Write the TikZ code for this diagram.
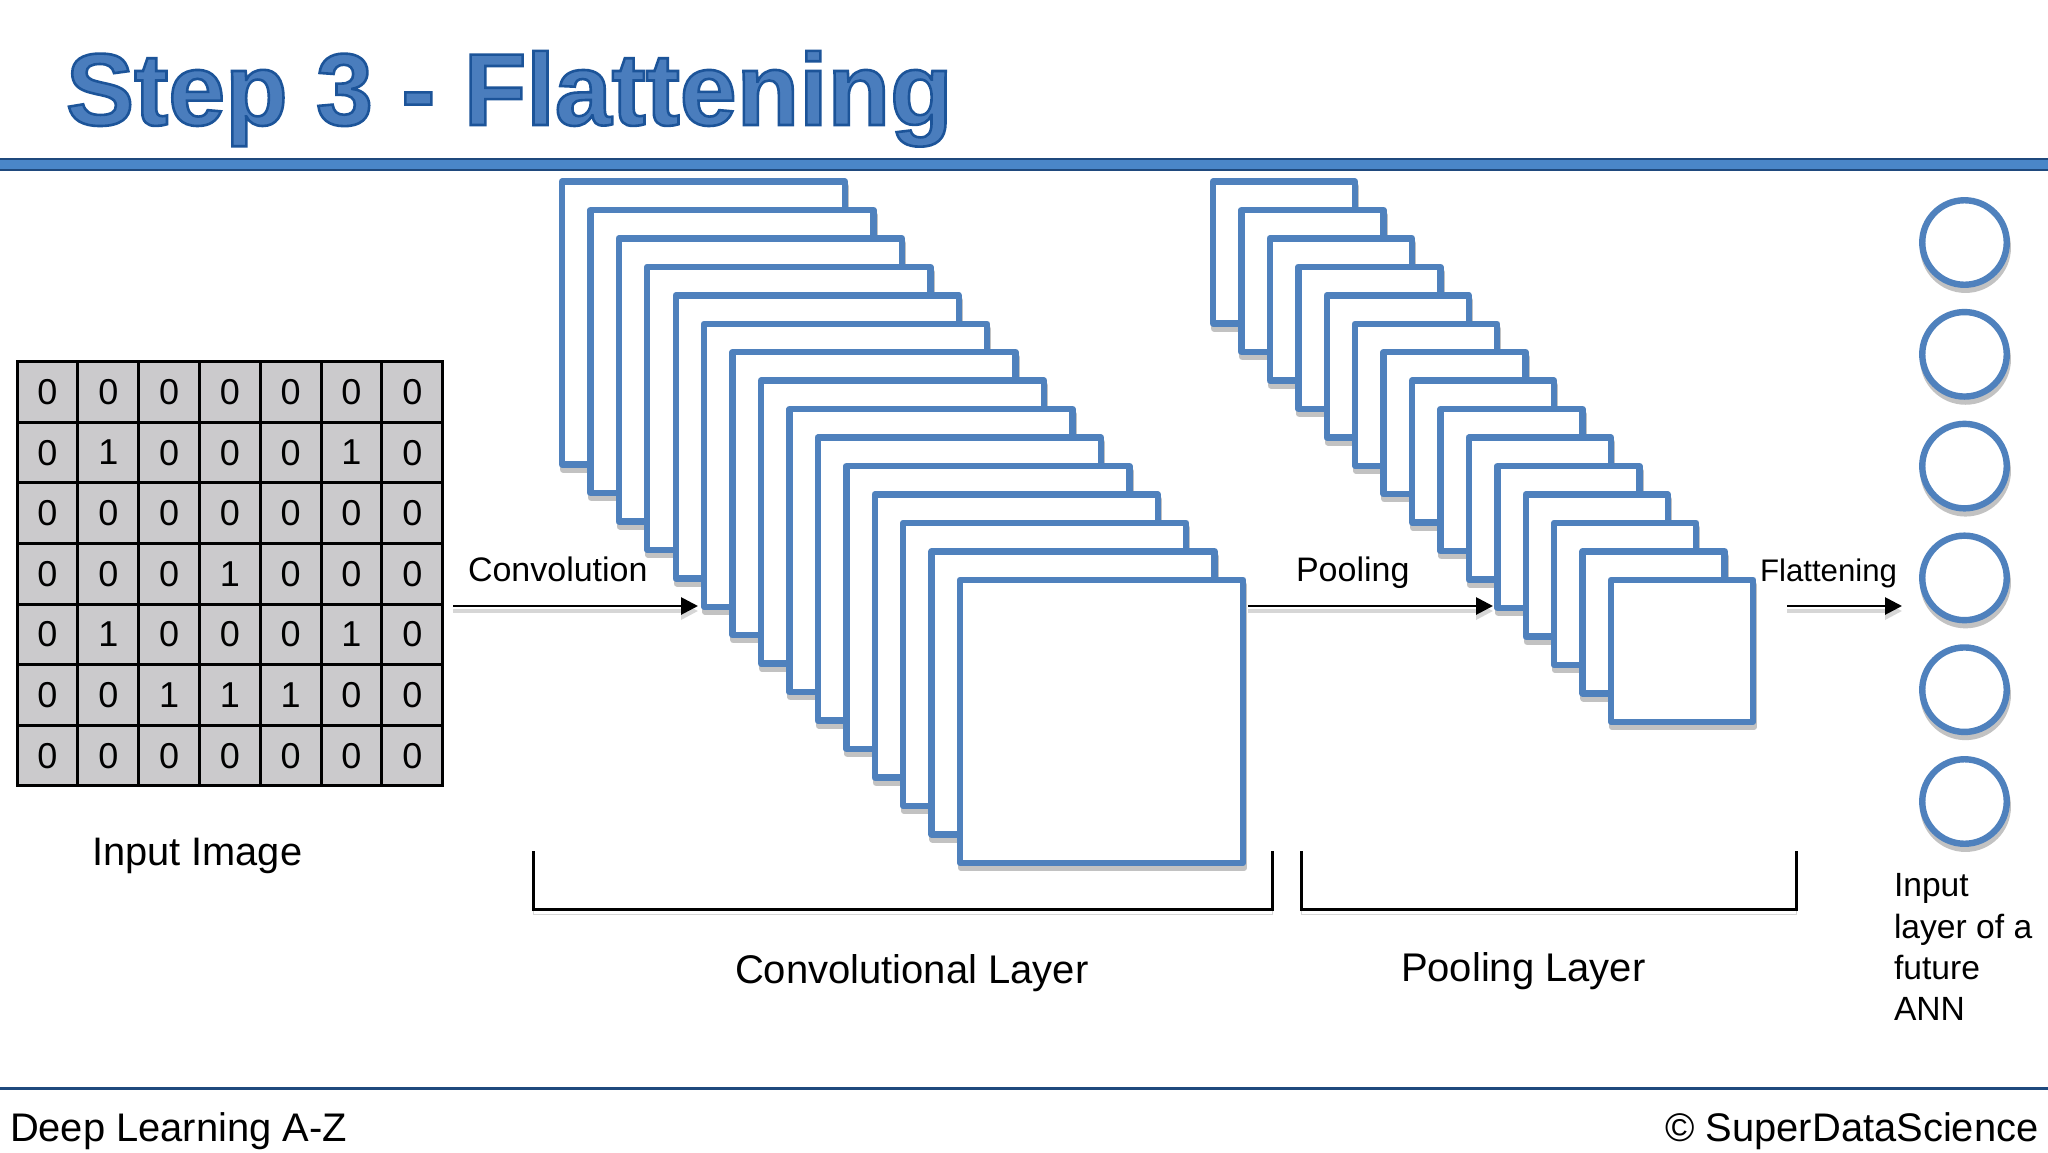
\documentclass[tikz,border=0pt]{standalone}
\usepackage{fontspec}
\setmainfont{Liberation Sans}
\usetikzlibrary{arrows.meta,shadows}
\definecolor{frameblue}{HTML}{4F81BD}
\definecolor{barblue}{HTML}{4A86C8}
\definecolor{darkblue}{HTML}{1F497D}
\definecolor{cellgray}{HTML}{CBCACC}
\newcommand{\fs}[1]{\fontsize{#1}{#1}\selectfont}
\tikzset{
  every node/.style={inner sep=0pt,outer sep=0pt},
  softshadow/.style={copy shadow={shadow xshift=1pt,shadow yshift=-5pt,draw=black!24,fill=black!24}},
  frame/.style={draw=frameblue,fill=white,line width=6.4pt,rectangle,softshadow,line join=round},
  neuron/.style={draw=frameblue,fill=white,line width=6.4pt,circle,minimum size=84.5pt,softshadow},
  cell/.style={draw=black,fill=cellgray,line width=3pt,rectangle,minimum width=60.8pt,minimum height=60.6pt,font=\fs{36},text=black},
  label/.style={anchor=base west,text=black},
  flow/.style={line width=2.8pt,-{Triangle[length=17pt,width=17pt]},preaction={draw=black!16,line width=3.4pt,transform canvas={yshift=-5pt}}},
  bracket/.style={line width=3pt,line join=miter,preaction={draw=black!16,transform canvas={yshift=-5pt}}},
}
\begin{document}
\begin{tikzpicture}[x=1pt,y=-1pt]
\useasboundingbox (0,0) rectangle (2048,1152);
\fill[white] (0,0) rectangle (2048,1152);
% title
\node[label,font=\bfseries\fs{102.3}] (title) at (66,125) {\special{pdf:code q 2 Tr 2.6 w 0.11 0.33 0.60 RG 0.29 0.49 0.74 rg}Step 3 - Flattening\special{pdf:code Q}};
% header bar
\path[fill=barblue,draw=darkblue,line width=1.8pt] (-5,159) rectangle (2053,170);
% grid
\foreach \r [count=\y from 0] in {{0,0,0,0,0,0,0},{0,1,0,0,0,1,0},{0,0,0,0,0,0,0},{0,0,0,1,0,0,0},{0,1,0,0,0,1,0},{0,0,1,1,1,0,0},{0,0,0,0,0,0,0}}{
  \foreach \v [count=\x from 0] in \r {
    \node[cell] (g\y-\x) at ({47.5+60.8*\x},{392+60.6*\y}) {\v};
  }
}
\node[label,font=\fs{39.8}] (inputimage) at (92,865) {Input Image};
% convolutional stack
\foreach \i in {0,...,14}{
  \node[frame,minimum size=283pt] (c\i) at ({703.5+28.43*\i},{323+28.45*\i}) {};
}
% pooling stack
\foreach \i in {0,...,14}{
  \node[frame,minimum size=142pt] (p\i) at ({1284+28.43*\i},{252.5+28.45*\i}) {};
}
% neurons
\foreach \i in {0,...,5}{
  \node[neuron] (n\i) at (1964.5,{242.5+111.8*\i}) {};
}
% arrows
\coordinate (a1s) at (453,606); \coordinate (a1e) at (698,606);
\coordinate (a2s) at (1248,606); \coordinate (a2e) at (1493,606);
\coordinate (a3s) at (1787,606); \coordinate (a3e) at (1902,606);
\draw[flow] (a1s) -- (a1e);
\draw[flow] (a2s) -- (a2e);
\draw[flow] (a3s) -- (a3e);
\node[label,font=\fs{34}] (lconv) at (468,581) {Convolution};
\node[label,font=\fs{34}] (lpool) at (1296,581) {Pooling};
\node[label,font=\fs{31.2}] (lflat) at (1760,581.5) {Flattening};
% brackets
\coordinate (b1a) at (533,851); \coordinate (b1b) at (533,909); \coordinate (b1c) at (1272,909); \coordinate (b1d) at (1272,851);
\coordinate (b2a) at (1301,851); \coordinate (b2b) at (1301,909); \coordinate (b2c) at (1796,909); \coordinate (b2d) at (1796,851);
\draw[bracket] (b1a) -- (b1b) -- (b1c) -- (b1d);
\draw[bracket] (b2a) -- (b2b) -- (b2c) -- (b2d);
\node[label,font=\fs{40}] (lcl) at (735,983) {Convolutional Layer};
\node[label,font=\fs{40}] (lpl) at (1401,981) {Pooling Layer};
\node[label,font=\fs{33.6}] (l1) at (1894,896) {Input};
\node[label,font=\fs{33.6}] (l2) at (1894,938) {layer of a};
\node[label,font=\fs{33.6}] (l3) at (1894,979) {future};
\node[label,font=\fs{33.6}] (l4) at (1894,1020) {ANN};
% footer
\path[fill=darkblue] (0,1086.5) rectangle (2048,1090);
\node[label,font=\fs{39.9}] (fl) at (10,1141) {Deep Learning A-Z};
\node[anchor=base east,text=black,font=\fs{39.9}] (fr) at (2038.5,1141) {© SuperDataScience};
\end{tikzpicture}
\end{document}
